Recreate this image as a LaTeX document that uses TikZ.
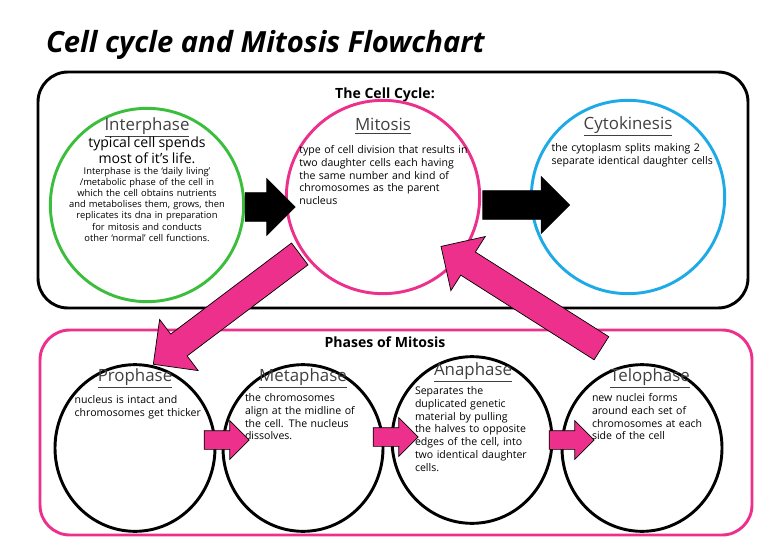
\documentclass[tikz,border=0pt]{standalone}
\usepackage{fontspec}
\setmainfont{Open Sans}
\usetikzlibrary{shapes.arrows,shapes.geometric}
\definecolor{cpink}{RGB}{236,48,140}
\definecolor{cgreen}{RGB}{60,190,60}
\definecolor{cblue}{RGB}{30,170,230}
\tikzset{
    box/.style={draw, line width=2.5pt, rounded corners=0.9cm},
    cell/.style={circle, draw, line width=2.5pt, minimum size=5.8cm, inner sep=0pt},
    phase/.style={ellipse, draw=black, line width=2.5pt, minimum width=4.8cm, minimum height=5.0cm, inner sep=0pt},
    head/.style={font=\Large, text=black!75},
    body/.style={font=\small, text width=#1, align=center, inner sep=0pt},
    fat/.style={single arrow, fill=#1, draw=black, line width=0.6pt},
}
\begin{document}
\hyphenpenalty=10000
\tolerance=9999
\begin{tikzpicture}[x=0.03cm, y=-0.03cm]
\useasboundingbox (0,0) rectangle (768,544);
\node[anchor=west, font=\Huge\bfseries\itshape] (title) at (42,45) {Cell cycle and Mitosis Flowchart};

% cell cycle box
\draw[box] (38,72) rectangle (748,308);
\node[font=\large\bfseries] (cc) at (385,95) {The Cell Cycle:};
\node[cell, draw=cgreen] (inter) at (147,205) {};
\node[cell, draw=cpink] (mito) at (383,197) {};
\node[cell, draw=cblue] (cyto) at (628,197) {};
\node[head] (interl) at (147,127) {\underline{Interphase}};
\node[head] (mitol) at (383,126) {\underline{Mitosis}};
\node[head] (cytol) at (628,126) {\underline{Cytokinesis}};
\node[body=5.2cm, anchor=north, font=\footnotesize] (intert) at (147,137) {{\large typical cell spends most of it's life.}\\ Interphase is the `daily living' /metabolic phase of the cell in which the cell obtains nutrients and metabolises them, grows, then replicates its dna in preparation for mitosis and conducts other `normal' cell functions.};
\node[body=5.2cm, anchor=north, align=left] (mitot) at (386,145) {type of cell division that results in two daughter cells each having the same number and kind of chromosomes as the parent nucleus};
\node[body=5.0cm, anchor=north, align=left] (cytot) at (635,143) {the cytoplasm splits making 2 separate identical daughter cells};

% phases box
\draw[box, draw=cpink] (40,330) rectangle (752,535);
\node[font=\large\bfseries] (pm) at (385,342) {Phases of Mitosis};
\node[phase] (pro) at (135,448) {};
\node[phase] (meta) at (303,448) {};
\node[phase] (ana) at (472,440) {};
\node[phase] (telo) at (642,448) {};
\node[head] (prol) at (135,378) {\underline{Prophase}};
\node[head] (metal) at (303,378) {\underline{Metaphase}};
\node[head] (anal) at (473,372) {\underline{Anaphase}};
\node[head] (telol) at (650,378) {\underline{Telophase}};
\node[body=3.8cm, anchor=north, align=left] (prot) at (138,395) {nucleus is intact and chromosomes get thicker};
\node[body=3.6cm, anchor=north, align=left] (metat) at (305,393) {the chromosomes align at the midline of the cell. The nucleus dissolves.};
\node[body=3.6cm, anchor=north, align=left] (anat) at (475,386) {Separates the duplicated genetic material by pulling the halves to opposite edges of the cell, into two identical daughter cells.};
\node[body=3.6cm, anchor=north, align=left] (telot) at (652,393) {new nuclei forms around each set of chromosomes at each side of the cell};

% black arrows
\node[fat=black, inner sep=0.42cm, minimum height=1.5cm, single arrow head extend=0.42cm] (a1) at (263,207) {};
\node[fat=black, inner sep=0.42cm, minimum height=2.6cm, single arrow head extend=0.42cm] (a2) at (519,205) {};
% big pink arrows
\node[fat=cpink, inner sep=0.4cm, minimum height=5.5cm, single arrow head extend=0.55cm, rotate=217] (p1) at (232,305) {};
\node[fat=cpink, inner sep=0.4cm, minimum height=5.7cm, single arrow head extend=0.55cm, rotate=147.6] (p2) at (527,301) {};
% small pink arrows
\node[fat=cpink, inner sep=0.27cm, minimum height=1.35cm, single arrow head extend=0.3cm] (s1) at (222,440) {};
\node[fat=cpink, inner sep=0.27cm, minimum height=1.35cm, single arrow head extend=0.3cm] (s2) at (391,437) {};
\node[fat=cpink, inner sep=0.27cm, minimum height=1.35cm, single arrow head extend=0.3cm] (s3) at (567,440) {};
\end{tikzpicture}
\end{document}
